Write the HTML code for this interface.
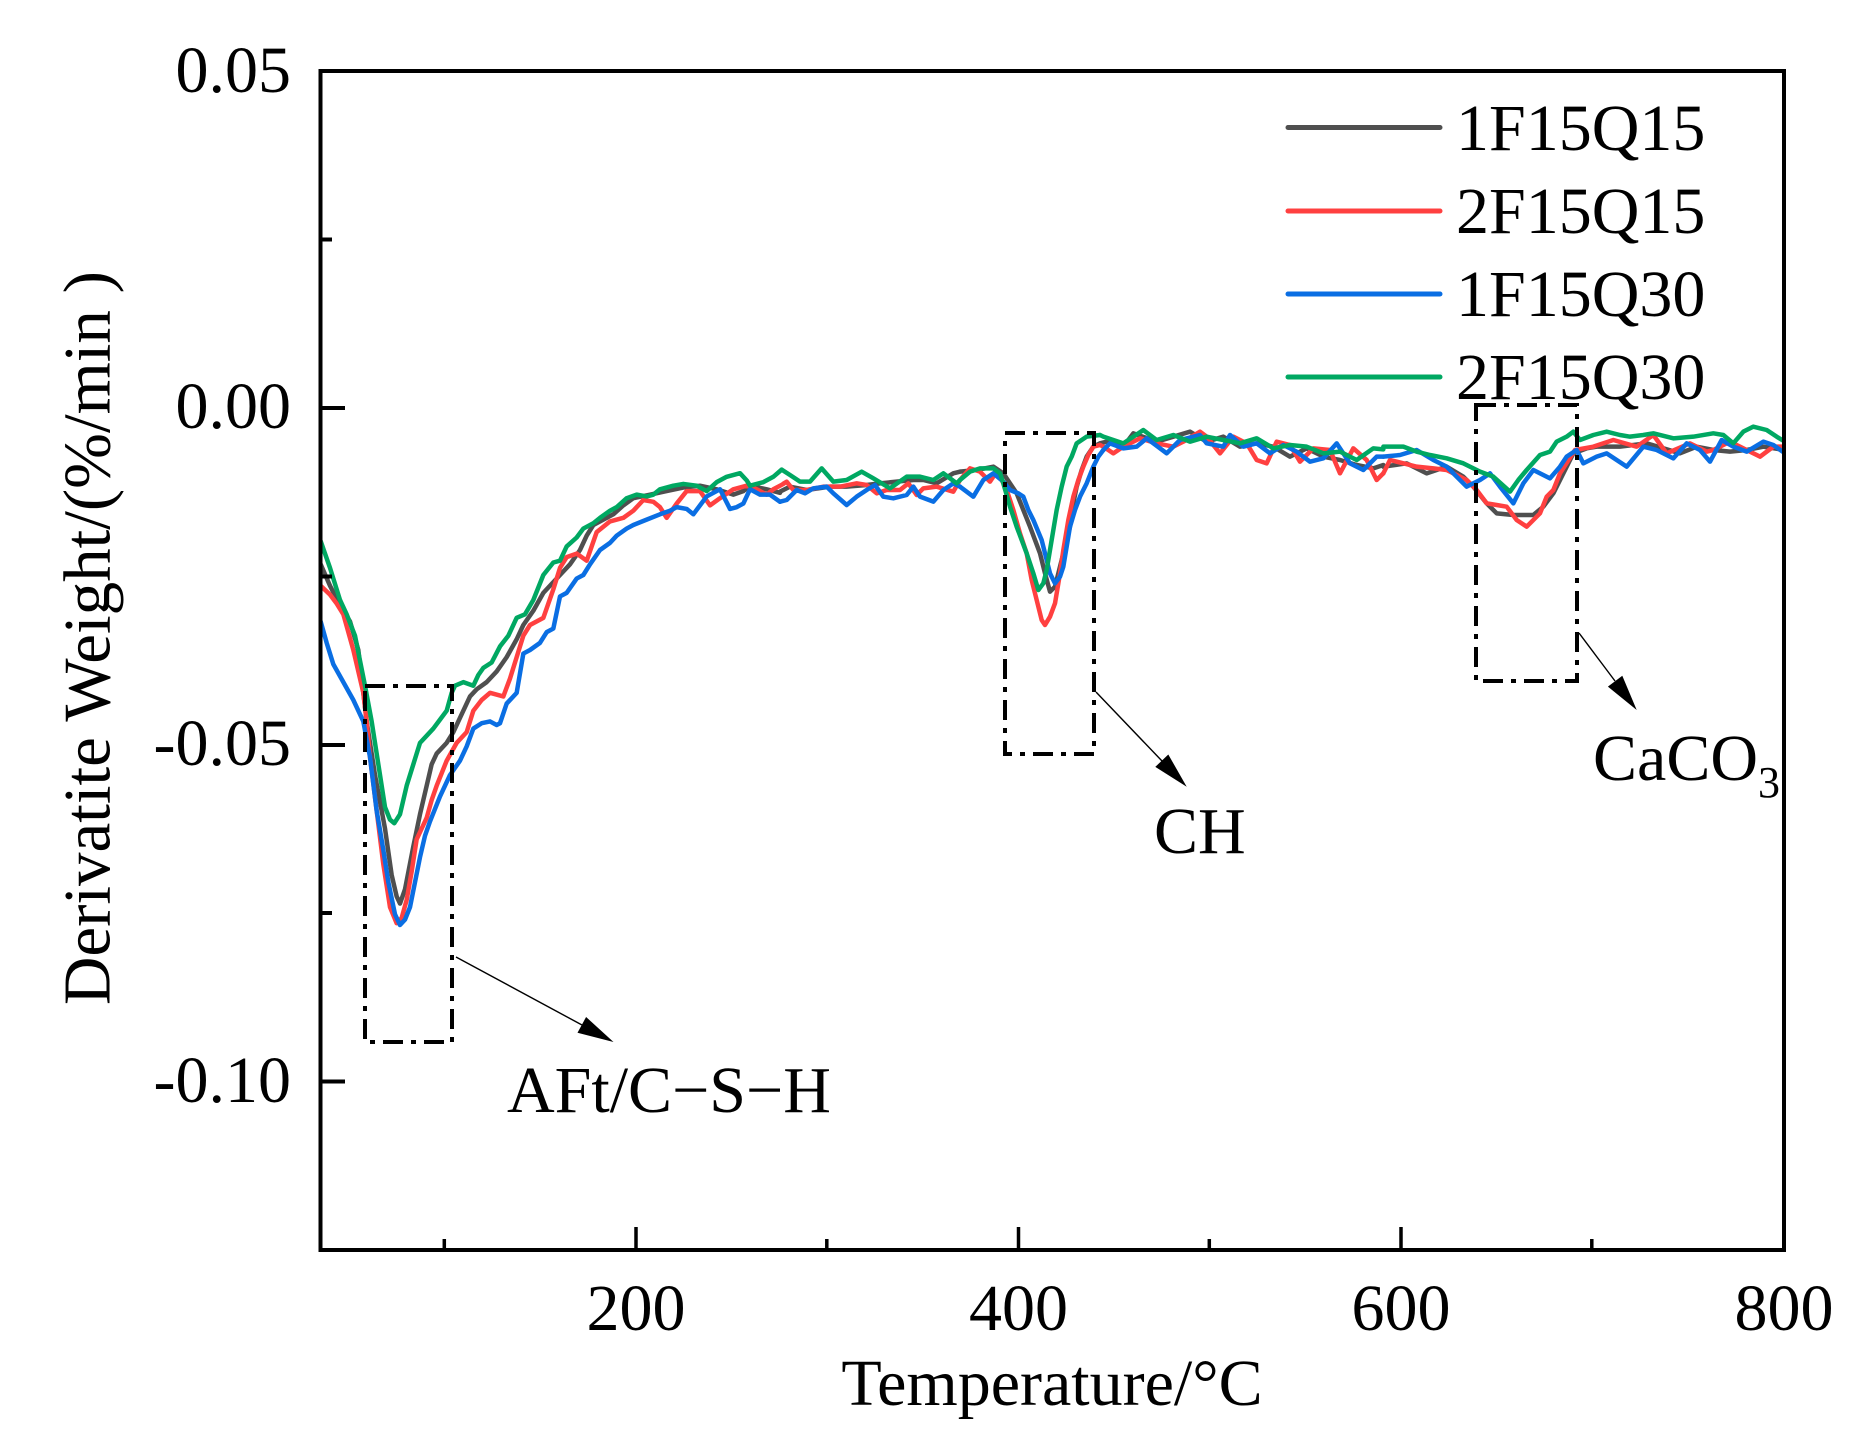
<!DOCTYPE html>
<html>
<head>
<meta charset="utf-8">
<style>
html,body{margin:0;padding:0;background:#fff;}
body{width:1857px;height:1450px;overflow:hidden;}
svg{display:block;}
text{font-family:"Liberation Serif","Times New Roman",serif;fill:#000;}
</style>
</head>
<body>
<svg width="1857" height="1450" viewBox="0 0 1857 1450" xmlns="http://www.w3.org/2000/svg">
<defs>
<clipPath id="plot"><rect x="320" y="71" width="1464" height="1179"/></clipPath>
</defs>
<rect x="0" y="0" width="1857" height="1450" fill="#fff"/>

<g clip-path="url(#plot)" fill="none" stroke-width="4.5" stroke-linejoin="round" stroke-linecap="round">
<!-- Gray 1F15Q15 -->
<g stroke="#4f4f4f">
<g transform="translate(300,400) scale(0.333333,0.357143)"><polyline vector-effect="non-scaling-stroke" points="62,460 90,520 120,575 150,620 175,700 200,900 225,1050 255,1200 275,1330 290,1390 300,1410 315,1370 340,1250 360,1160 380,1080 395,1020 410,990 440,960 460,930 480,890 510,830 530,810 560,790 590,760 620,720 650,670 670,630 700,590 730,540 760,510 780,490 810,460 840,420 860,380 880,350 910,335 940,320 970,295 1000,275 1050,265 1100,255 1150,245 1200,240 1250,250 1300,265 1330,255 1350,240 1400,250 1440,260"/></g>
<g transform="translate(780,440) scale(0.333333)"><polyline vector-effect="non-scaling-stroke" points="0,155 30,140 80,150 150,140 200,140 260,135 300,130 350,125 400,120 430,120 470,130 520,100 540,95"/></g>
<g transform="translate(960,400) scale(0.333333)"><polyline vector-effect="non-scaling-stroke" points="0,215 50,210 100,200 130,220 150,250 170,280 190,330 210,380 240,460 255,520 270,575 285,560 300,500 315,440 330,380 340,310 350,260 365,210 380,170 400,140 420,130"/></g>
<g transform="translate(1090,410) scale(0.333333)"><polyline vector-effect="non-scaling-stroke" points="30,100 50,95 100,110 130,70 200,95 250,80 300,65 350,95 400,80 450,110 500,100 550,110 600,140 650,115 700,140 750,150 800,165 850,175 880,165"/></g>
<g transform="translate(1380,380) scale(0.333333)"><polyline vector-effect="non-scaling-stroke" points="10,260 80,250 140,280 200,260 250,290 280,320 320,370 350,400 400,405 460,405 490,380 520,340 550,280 580,220 620,205 650,200 720,200 800,190 850,205 900,220 950,200 1000,210 1050,215 1100,210 1150,200 1215,210"/></g>
</g>
<!-- Red 2F15Q15 -->
<g stroke="#ff4040">
<g transform="translate(300,400) scale(0.333333,0.357143)"><polyline vector-effect="non-scaling-stroke" points="62,520 90,545 110,570 130,600 160,700 190,820 200,900 210,1000 230,1150 250,1300 270,1420 290,1465 305,1450 320,1400 335,1320 350,1230 365,1200 380,1170 395,1120 410,1080 440,1010 470,960 500,930 520,870 545,840 570,820 610,830 630,780 650,720 670,660 690,630 730,610 760,530 780,470 800,440 830,430 860,450 890,370 930,340 970,330 1000,310 1030,280 1060,285 1080,300 1100,330 1130,290 1160,255 1200,255 1230,295 1260,275 1300,250 1340,240 1370,250 1400,265 1420,250 1450,235"/></g>
<g transform="translate(780,440) scale(0.333333)"><polyline vector-effect="non-scaling-stroke" points="10,131 20,125 40,150 80,150 130,140 180,140 230,130 260,135 290,160 320,150 360,150 385,130 410,165 430,145 470,140 520,155 540,120"/></g>
<g transform="translate(960,400) scale(0.333333)"><polyline vector-effect="non-scaling-stroke" points="0,240 30,205 60,215 90,245 110,215 120,230 140,270 160,330 180,400 200,460 215,540 230,600 245,660 255,675 270,650 285,610 300,520 310,450 325,360 340,290 355,240 370,200 385,165 400,140 420,135"/></g>
<g transform="translate(1090,410) scale(0.333333)"><polyline vector-effect="non-scaling-stroke" points="30,105 40,110 70,130 100,110 150,85 200,100 250,110 280,95 330,65 350,80 390,130 430,80 470,100 500,150 530,160 560,95 600,105 630,155 670,115 720,120 750,190 790,115 830,150 860,210 880,190"/></g>
<g transform="translate(1380,380) scale(0.333333)"><polyline vector-effect="non-scaling-stroke" points="10,280 30,240 70,250 110,260 160,265 200,270 260,300 290,330 320,370 350,375 380,380 410,420 440,440 480,400 500,350 520,330 540,280 585,210 640,200 700,180 770,200 820,165 860,220 930,190 980,215 1000,210 1050,185 1100,210 1140,230 1180,200 1215,200"/></g>
</g>
<!-- Blue 1F15Q30 -->
<g stroke="#0a6ee3">
<g transform="translate(300,400) scale(0.333333,0.357143)"><polyline vector-effect="non-scaling-stroke" points="62,620 80,680 100,740 130,790 160,840 190,900 210,1000 230,1150 250,1260 265,1350 285,1440 300,1470 315,1455 330,1420 345,1350 360,1280 375,1220 390,1180 420,1110 450,1050 480,1010 500,970 520,920 545,905 570,900 590,910 600,905 620,850 650,820 670,710 690,700 720,680 740,650 760,640 780,550 800,540 830,500 850,490 870,460 900,420 930,400 950,380 980,360 1000,350 1040,335 1080,320 1110,310 1130,300 1160,305 1180,320 1200,295 1220,270 1260,250 1290,305 1310,300 1330,290 1350,250 1380,265 1410,265 1440,285"/></g>
<g transform="translate(780,440) scale(0.333333)"><polyline vector-effect="non-scaling-stroke" points="0,185 20,180 50,150 75,160 100,145 140,140 160,160 200,195 230,170 260,150 285,135 310,170 340,175 380,165 400,140 420,170 460,185 490,150 520,130 540,140"/></g>
<g transform="translate(960,400) scale(0.333333)"><polyline vector-effect="non-scaling-stroke" points="0,260 20,275 40,290 70,240 100,220 130,245 150,270 175,280 190,290 205,330 220,360 245,420 260,480 270,520 285,550 300,530 310,500 320,440 330,380 345,330 360,290 380,250 400,200 415,170 430,150"/></g>
<g transform="translate(1090,410) scale(0.333333)"><polyline vector-effect="non-scaling-stroke" points="40,120 60,100 100,115 140,110 170,85 230,130 270,90 330,75 350,100 400,110 420,75 460,110 500,100 540,130 580,105 620,125 660,155 700,145 740,100 780,160 820,180 860,140 880,140"/></g>
<g transform="translate(1380,380) scale(0.333333)"><polyline vector-effect="non-scaling-stroke" points="10,230 60,225 110,210 160,240 200,260 260,320 300,300 330,280 360,320 400,370 430,310 460,270 510,295 540,260 560,230 590,210 610,250 650,230 680,220 740,260 790,200 830,210 880,235 920,190 960,210 990,245 1025,180 1060,200 1100,215 1150,185 1180,195 1215,220"/></g>
</g>
<!-- Green 2F15Q30 -->
<g stroke="#00a862">
<g transform="translate(300,400) scale(0.333333,0.357143)"><polyline vector-effect="non-scaling-stroke" points="62,395 90,470 120,560 140,600 165,660 195,800 215,900 235,1020 255,1140 270,1175 283,1185 300,1160 320,1080 340,1020 360,960 385,935 400,920 420,895 440,870 455,820 465,800 490,790 520,800 535,770 550,750 575,735 600,690 625,660 650,610 675,600 700,560 730,490 760,455 780,450 800,410 830,385 850,360 880,345 900,330 930,310 950,300 980,275 1010,265 1040,270 1060,265 1080,250 1120,240 1150,235 1190,240 1220,255 1250,230 1280,215 1320,205 1340,225 1350,240 1390,230 1420,215 1445,195"/></g>
<g transform="translate(780,440) scale(0.333333)"><polyline vector-effect="non-scaling-stroke" points="5,89 30,105 60,125 90,125 125,85 160,125 200,120 245,95 280,115 330,145 380,110 420,110 460,120 490,100 530,130 540,120"/></g>
<g transform="translate(960,400) scale(0.333333)"><polyline vector-effect="non-scaling-stroke" points="0,240 30,215 60,205 100,205 120,220 130,250 150,320 170,380 200,460 220,520 235,570 250,550 260,510 275,420 290,330 305,260 320,200 335,170 350,130 380,110 420,105"/></g>
<g transform="translate(1090,410) scale(0.333333)"><polyline vector-effect="non-scaling-stroke" points="30,75 40,80 100,100 160,60 200,90 250,75 300,95 350,80 400,90 450,100 500,85 550,115 600,105 650,110 700,130 750,125 800,150 850,115 880,118"/></g>
<g transform="translate(1380,380) scale(0.333333)"><polyline vector-effect="non-scaling-stroke" points="10,200 70,200 110,215 150,225 200,235 250,250 300,275 340,290 390,335 415,300 440,270 480,225 510,215 530,185 560,170 580,155 600,180 640,165 680,155 720,165 750,170 790,165 820,160 880,175 940,170 1000,160 1030,165 1060,190 1090,155 1120,140 1160,150 1190,170 1215,185"/></g>
</g>
</g>

<!-- annotation boxes (dash-dot) -->
<g fill="none" stroke="#000" stroke-width="4" stroke-dasharray="20 8 5 8">
<rect x="365" y="686" width="87" height="356"/>
<rect x="1005" y="433" width="89" height="321"/>
<rect x="1476" y="405" width="101" height="276"/>
</g>

<!-- arrows -->
<g stroke="#000" stroke-width="1.4" fill="none">
<line x1="456" y1="957" x2="582" y2="1025"/>
<line x1="1096" y1="692" x2="1162" y2="761"/>
<line x1="1579" y1="633" x2="1615" y2="681"/>
</g>
<g fill="#000" stroke="none">
<polygon points="613.5,1042 577.5,1032.8 586.1,1017"/>
<polygon points="1186.7,786.7 1155.3,766.9 1168.3,754.5"/>
<polygon points="1636.7,710 1607.9,686.6 1622.3,675.8"/>
</g>

<!-- axes frame -->
<rect x="320.5" y="71" width="1463.5" height="1179" fill="none" stroke="#000" stroke-width="4"/>

<!-- y ticks -->
<g stroke="#000" stroke-width="4">
<line x1="320" y1="408" x2="345" y2="408"/>
<line x1="320" y1="745" x2="345" y2="745"/>
<line x1="320" y1="1081.5" x2="345" y2="1081.5"/>
<line x1="320" y1="239.5" x2="332" y2="239.5"/>
<line x1="320" y1="576.5" x2="332" y2="576.5"/>
<line x1="320" y1="913" x2="332" y2="913"/>
</g>
<!-- x ticks -->
<g stroke="#000" stroke-width="3.5">
<line x1="636" y1="1250" x2="636" y2="1227"/>
<line x1="1018.5" y1="1250" x2="1018.5" y2="1227"/>
<line x1="1401" y1="1250" x2="1401" y2="1227"/>
<line x1="444.3" y1="1250" x2="444.3" y2="1239"/>
<line x1="826.8" y1="1250" x2="826.8" y2="1239"/>
<line x1="1209.3" y1="1250" x2="1209.3" y2="1239"/>
<line x1="1591.8" y1="1250" x2="1591.8" y2="1239"/>
</g>

<!-- y tick labels -->
<g font-size="66" text-anchor="end">
<text x="291" y="92">0.05</text>
<text x="291" y="428">0.00</text>
<text x="291" y="765">-0.05</text>
<text x="291" y="1102">-0.10</text>
</g>
<!-- x tick labels -->
<g font-size="66" text-anchor="middle">
<text x="636" y="1330">200</text>
<text x="1018.5" y="1330">400</text>
<text x="1401" y="1330">600</text>
<text x="1784" y="1330">800</text>
</g>

<!-- axis titles -->
<text x="1052" y="1405" font-size="66" text-anchor="middle">Temperature/°C</text>
<text x="0" y="0" font-size="67" transform="translate(109.5,1005) rotate(-90)">Derivatite Weight/(%/min )</text>

<!-- legend -->
<g stroke-width="5" stroke-linecap="round">
<line x1="1288" y1="127.5" x2="1440" y2="127.5" stroke="#4f4f4f"/>
<line x1="1288" y1="211" x2="1440" y2="211" stroke="#ff4040"/>
<line x1="1288" y1="294" x2="1440" y2="294" stroke="#0a6ee3"/>
<line x1="1288" y1="377" x2="1440" y2="377" stroke="#00a862"/>
</g>
<g font-size="66">
<text x="1456" y="150">1F15Q15</text>
<text x="1456" y="233">2F15Q15</text>
<text x="1456" y="316">1F15Q30</text>
<text x="1456" y="399">2F15Q30</text>
</g>

<!-- annotation labels -->
<text x="507" y="1112" font-size="66">AFt/C−S−H</text>
<text x="1154" y="853" font-size="66">CH</text>
<text x="1593" y="780" font-size="66">CaCO<tspan font-size="44" dy="17">3</tspan></text>
</svg>
</body>
</html>
